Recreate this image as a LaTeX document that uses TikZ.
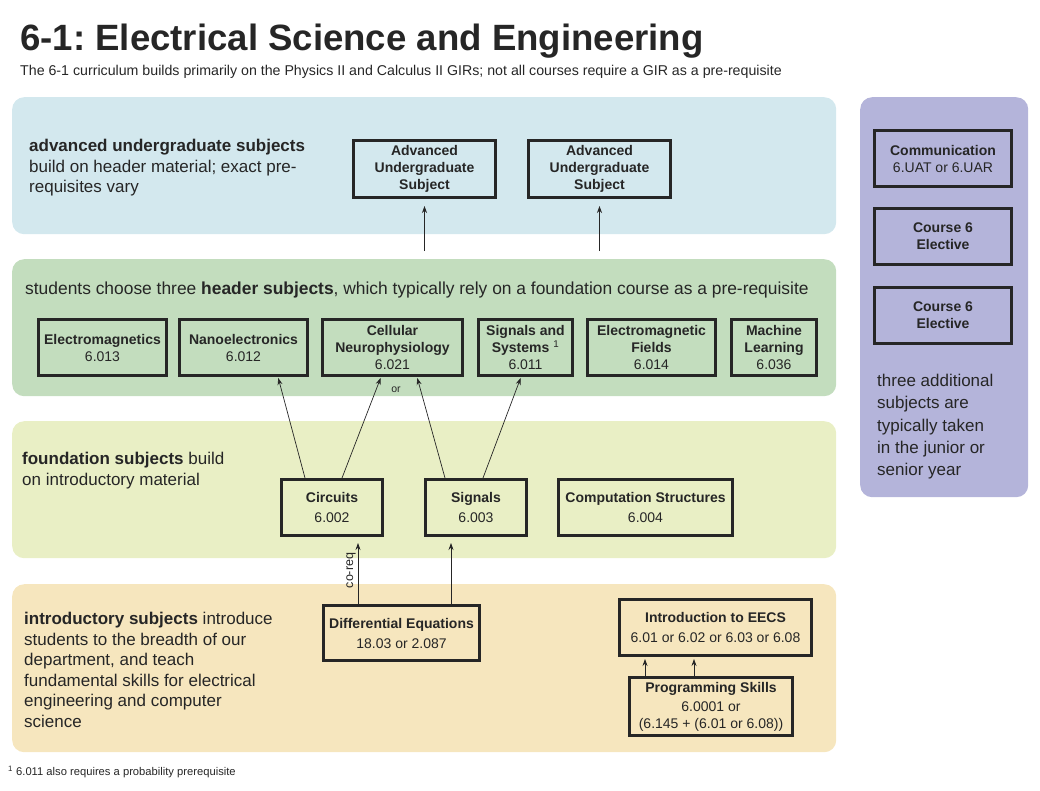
\documentclass[tikz,border=0pt]{standalone}
\usepackage{fontspec}
\setmainfont{Liberation Sans}
\usetikzlibrary{positioning, arrows.meta}
\definecolor{AdvBlue}{RGB}{211,232,238}
\definecolor{HeadGreen}{RGB}{195,221,190}
\definecolor{FoundYellow}{RGB}{233,239,197}
\definecolor{IntroTan}{RGB}{246,230,190}
\definecolor{SideLav}{RGB}{180,180,218}
\definecolor{InkGray}{RGB}{38,38,38}
\frenchspacing

\begin{document}
\begin{tikzpicture}[x=1pt, y=-1pt,
            band/.style={rounded corners=12pt, anchor=north west, inner sep=0pt},
            course/.style={
                draw=InkGray, line width=3pt, align=center, inner sep=2pt,
                text=InkGray, font=\fontsize{14}{17}\selectfont
            },
            blurb/.style={anchor=north west, align=left, inner sep=0pt,
                text=InkGray, font=\fontsize{17}{20.5}\selectfont},
            arrow/.style={->, >={Stealth[length=7pt, width=5pt]}, line width=0.7pt, InkGray},
            node distance=12pt
        ]
            \useasboundingbox (0,0) rectangle (1040,790);

            % Title and subtitle
            \node[anchor=base west, inner sep=0pt, text=InkGray,
                  font=\fontsize{36.6}{40}\selectfont\bfseries] (title) at (20,50)
                {6-1: Electrical Science and Engineering};
            \node[anchor=base west, inner sep=0pt, text=InkGray,
                  font=\fontsize{14.2}{16}\selectfont] (subtitle) at (20,75)
                {The 6-1 curriculum builds primarily on the Physics II and Calculus II GIRs; not all courses require a GIR as a pre-requisite};

            % Background bands
            \node[band, fill=AdvBlue, minimum width=824pt, minimum height=137pt] (advband) at (12,97) {};
            \node[band, fill=HeadGreen, minimum width=824pt, minimum height=137pt] (headband) at (12,259) {};
            \node[band, fill=FoundYellow, minimum width=824pt, minimum height=137pt] (foundband) at (12,421) {};
            \node[band, fill=IntroTan, minimum width=824pt, minimum height=168pt] (introband) at (12,584) {};
            \node[band, fill=SideLav, minimum width=168pt, minimum height=400pt] (sideband) at (860,97) {};

            % Band descriptions
            \node[blurb] (advtext) at (29,139) {
                \textbf{advanced undergraduate subjects}\\
                build on header material; exact pre-\\
                requisites vary
            };
            \node[anchor=base west, inner sep=0pt, text=InkGray,
                  font=\fontsize{17.4}{20.5}\selectfont] (headtext) at (25,294)
                {students choose three \textbf{header subjects}, which typically rely on a foundation course as a pre-requisite};
            \node[blurb] (foundtext) at (22,452) {
                \textbf{foundation subjects} build\\
                on introductory material
            };
            \node[blurb] (introtext) at (24,612) {
                \textbf{introductory subjects} introduce\\
                students to the breadth of our\\
                department, and teach\\
                fundamental skills for electrical\\
                engineering and computer\\
                science
            };
            \node[blurb, font=\fontsize{17}{22.3}\selectfont] (sidetext) at (877,374) {
                three additional\\
                subjects are\\
                typically taken\\
                in the junior or\\
                senior year
            };

            % Advanced subjects
            \node[course, minimum width=142pt, minimum height=57pt] (adv1) at (424.5,169)
                {\textbf{Advanced}\\\textbf{Undergraduate}\\\textbf{Subject}};
            \node[course, minimum width=142pt, minimum height=57pt] (adv2) at (599.5,169)
                {\textbf{Advanced}\\\textbf{Undergraduate}\\\textbf{Subject}};

            % Header subjects
            \node[course, minimum width=128pt, minimum height=56pt] (emag) at (102.5,347.5)
                {\textbf{Electromagnetics}\\6.013};
            \node[course, minimum width=128pt, minimum height=56pt, right=10pt of emag] (nano)
                {\textbf{Nanoelectronics}\\6.012};
            \node[course, minimum width=140pt, minimum height=56pt, right=of nano] (neuro)
                {\textbf{Cellular}\\\textbf{Neurophysiology}\\6.021};
            \node[course, minimum width=94pt, minimum height=56pt, right=13pt of neuro] (sigsys)
                {\textbf{Signals and}\\\textbf{Systems} \textsuperscript{1}\\6.011};
            \node[course, minimum width=128pt, minimum height=56pt, right=of sigsys] (emfields)
                {\textbf{Electromagnetic}\\\textbf{Fields}\\6.014};
            \node[course, minimum width=85pt, minimum height=56pt, right=13pt of emfields] (ml)
                {\textbf{Machine}\\\textbf{Learning}\\6.036};

            % Foundation subjects
            \node[course, minimum width=101pt, minimum height=56pt] (circ) at (332,507.5)
                {\textbf{Circuits}\\[3pt]6.002};
            \node[course, minimum width=101pt, minimum height=56pt, right=40pt of circ] (sig)
                {\textbf{Signals}\\[3pt]6.003};
            \node[course, minimum width=174pt, minimum height=56pt, right=29pt of sig] (comp)
                {\textbf{Computation Structures}\\[3pt]6.004};

            % Introductory subjects
            \node[course, minimum width=156pt, minimum height=55pt] (diffeq) at (401.5,633)
                {\textbf{Differential Equations}\\[3pt]18.03 or 2.087};
            \node[course, minimum width=192pt, minimum height=56pt] (eecs) at (715.5,627.5)
                {\textbf{Introduction to EECS}\\[3pt]6.01 or 6.02 or 6.03 or 6.08};
            \node[course, minimum width=163pt, minimum height=58pt] (prog) at (711,706.5)
                {\textbf{Programming Skills}\\[2pt]6.0001 or\\(6.145 + (6.01 or 6.08))};

            % Additional subjects
            \node[course, minimum width=137pt, minimum height=56pt] (comm) at (943,158.5)
                {\textbf{Communication}\\6.UAT or 6.UAR};
            \node[course, minimum width=137pt, minimum height=56pt, below=19pt of comm] (elec1)
                {\textbf{Course 6}\\\textbf{Elective}};
            \node[course, minimum width=137pt, minimum height=56pt, below=20pt of elec1] (elec2)
                {\textbf{Course 6}\\\textbf{Elective}};

            % Arrows into the advanced subjects
            \coordinate (advfoot1) at (424.5,251);
            \coordinate (advfoot2) at (599.5,251);
            \draw[arrow, shorten >=7pt] (advfoot1) -- (adv1.south);
            \draw[arrow, shorten >=7pt] (advfoot2) -- (adv2.south);

            % Foundation to header
            \draw[arrow, shorten >=1pt] ([xshift=-27pt]circ.north) -- ([xshift=34.5pt]nano.south);
            \draw[arrow, shorten >=1pt] ([xshift=10pt]circ.north) -- ([xshift=-11.5pt]neuro.south);
            \draw[arrow, shorten >=1pt] ([xshift=-31pt]sig.north) -- ([xshift=24.5pt]neuro.south);
            \draw[arrow, shorten >=1pt] ([xshift=7pt]sig.north) -- ([xshift=-4.5pt]sigsys.south);
            \node[text=InkGray, font=\fontsize{10.5}{12}\selectfont] (or) at (396,390) {or};

            % Introductory to foundation
            \draw[arrow, shorten >=6pt] ([xshift=-43.5pt]diffeq.north) --
                node[anchor=south, rotate=90, inner sep=2pt, text=InkGray,
                     font=\fontsize{12.5}{14}\selectfont] (coreq) {co-req}
                ([xshift=26pt]circ.south);
            \draw[arrow, shorten >=6pt] ([xshift=49.5pt]diffeq.north) -- ([xshift=-25pt]sig.south);
            \draw[arrow, shorten >=2pt] ([xshift=-66pt]prog.north) -- ([xshift=-70.5pt]eecs.south);
            \draw[arrow, shorten >=2pt] ([xshift=-17pt]prog.north) -- ([xshift=-21.5pt]eecs.south);

            % Footnote
            \node[anchor=base west, inner sep=0pt, text=InkGray,
                  font=\fontsize{11.2}{13}\selectfont] (footnote) at (8,775)
                {\textsuperscript{1} 6.011 also requires a probability prerequisite};
        \end{tikzpicture}
\end{document}
